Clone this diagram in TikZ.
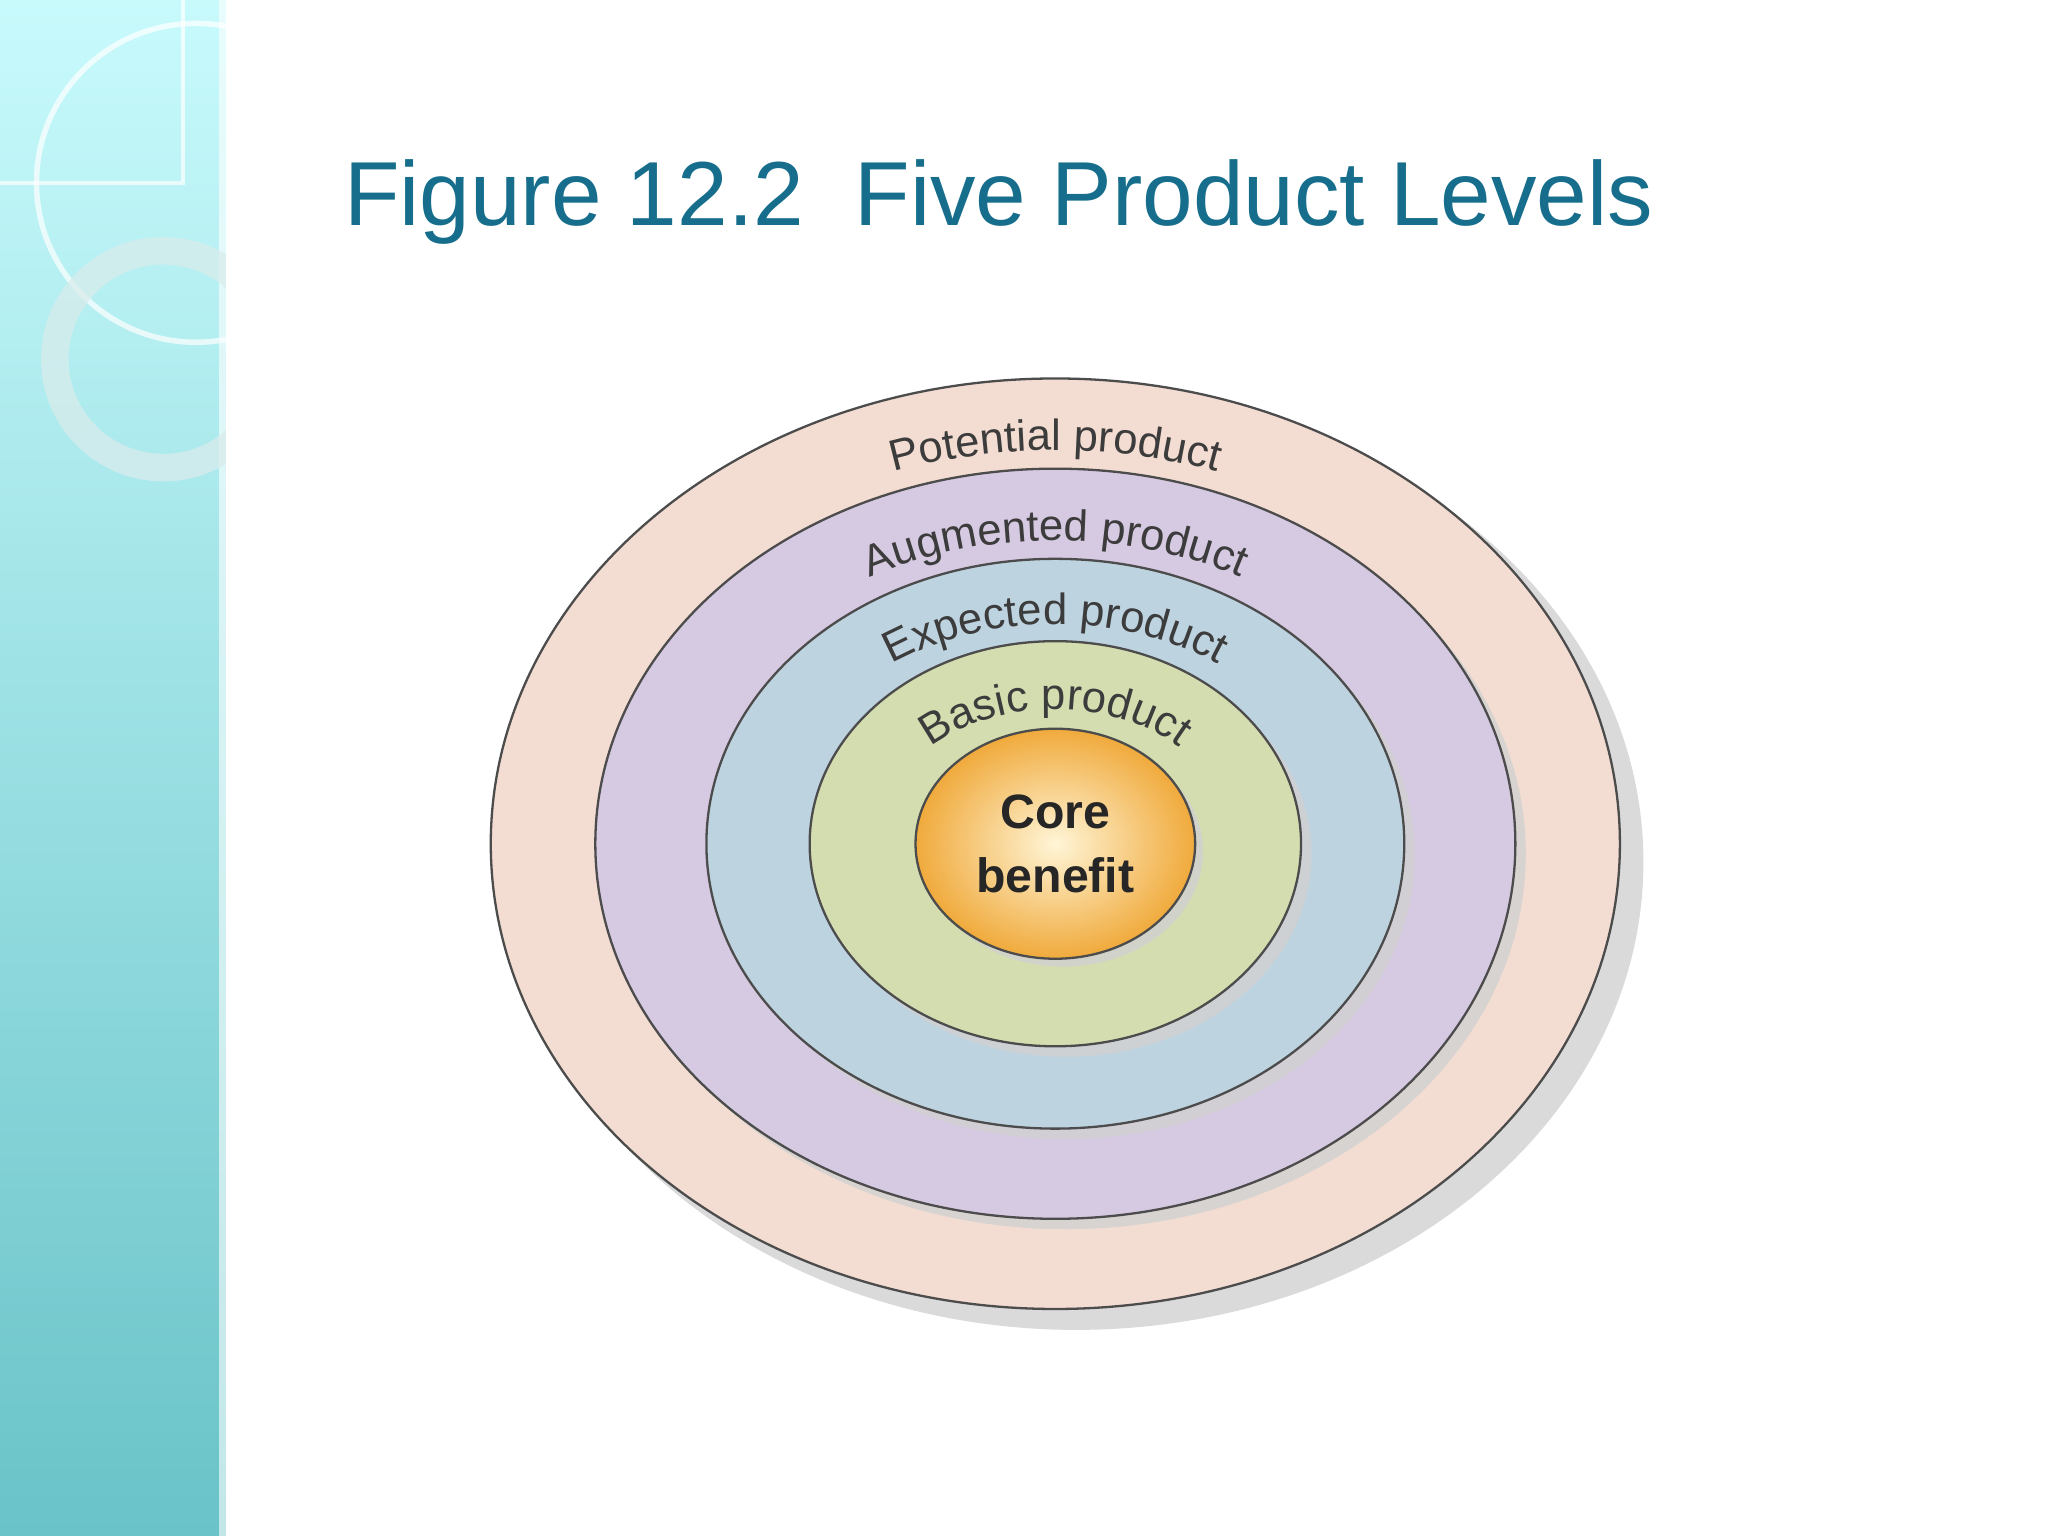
\documentclass[tikz,border=0pt]{standalone}
\usepackage{fontspec}
\setmainfont{Liberation Sans}
\usetikzlibrary{decorations.text,calc}
\definecolor{titlec}{RGB}{22,110,140}
\definecolor{potc}{RGB}{243,221,210}
\definecolor{augc}{RGB}{214,201,226}
\definecolor{expc}{RGB}{190,211,224}
\definecolor{basc}{RGB}{212,221,176}
\definecolor{txtc}{RGB}{60,60,60}
\tikzset{
  ring/.style={draw=black!70, line width=0.5pt},
  shad/.style={fill=black!18, opacity=0.8},
  lbl/.style={decorate, decoration={text along path, text align=center,
     text={|\fontsize{9.5pt}{11pt}\selectfont\color{txtc}|#1}}}
}
\begin{document}
\begin{tikzpicture}[x=0.01cm,y=0.01cm]
\useasboundingbox (0,0) rectangle (1568,1176);
\fill[white] (0,0) rectangle (1568,1176);
% left bar
\shade[top color={rgb,255:red,200;green,250;blue,252}, bottom color={rgb,255:red,105;green,195;blue,200}] (0,0) rectangle (173,1176);
\fill[white,opacity=0.6] (168,0) rectangle (174,1176);
\begin{scope}
\clip (0,0) rectangle (173,1176);
\draw[white,opacity=0.7,line width=1pt] (0,1036) -- (140,1036) -- (140,1176);
\draw[white,opacity=0.7,line width=1.2pt] (150,1036) circle[radius=1.22cm];
\draw[white!85!teal,opacity=0.75,line width=6pt] (125,901) circle[radius=0.83cm];
\end{scope}
% title
\node[anchor=west,text=titlec,font=\fontsize{19.8pt}{24pt}\selectfont] (title) at (251,1021) {Figure 12.2\ \ Five Product Levels};
% ellipses
\coordinate (c) at (808,530);
\fill[shad] ($(c)+(16,-14)$) ellipse[x radius=4.34cm,y radius=3.58cm];
\draw[ring,fill=potc] (c) ellipse[x radius=4.32cm,y radius=3.56cm];
\fill[shad] ($(c)+(8,-8)$) ellipse[x radius=3.52cm,y radius=2.87cm];
\draw[ring,fill=augc] (c) ellipse[x radius=3.52cm,y radius=2.87cm];
\fill[shad] ($(c)+(8,-8)$) ellipse[x radius=2.67cm,y radius=2.18cm];
\draw[ring,fill=expc] (c) ellipse[x radius=2.67cm,y radius=2.18cm];
\fill[shad] ($(c)+(8,-8)$) ellipse[x radius=1.88cm,y radius=1.55cm];
\draw[ring,fill=basc] (c) ellipse[x radius=1.88cm,y radius=1.55cm];
\fill[shad] ($(c)+(6,-6)$) ellipse[x radius=1.07cm,y radius=0.88cm];
\draw[ring,inner color={rgb,255:red,255;green,245;blue,215},outer color={rgb,255:red,240;green,170;blue,60}] (c) ellipse[x radius=1.07cm,y radius=0.88cm];
\node[font=\bfseries\fontsize{10.5pt}{14pt}\selectfont,text=black!85,align=center] (core) at (808,530) {Core\\benefit};
% curved labels
\path[lbl=Potential product] ($(c)+(135:3.77cm and 3.01cm)$) arc[start angle=135,end angle=45,x radius=3.77cm,y radius=3.01cm];
\path[lbl=Augmented product] ($(c)+(135:2.97cm and 2.32cm)$) arc[start angle=135,end angle=45,x radius=2.97cm,y radius=2.32cm];
\path[lbl=Expected product] ($(c)+(140:2.17cm and 1.68cm)$) arc[start angle=140,end angle=40,x radius=2.17cm,y radius=1.68cm];
\path[lbl=Basic product] ($(c)+(145:1.36cm and 1.03cm)$) arc[start angle=145,end angle=35,x radius=1.36cm,y radius=1.03cm];
\end{tikzpicture}
\end{document}
